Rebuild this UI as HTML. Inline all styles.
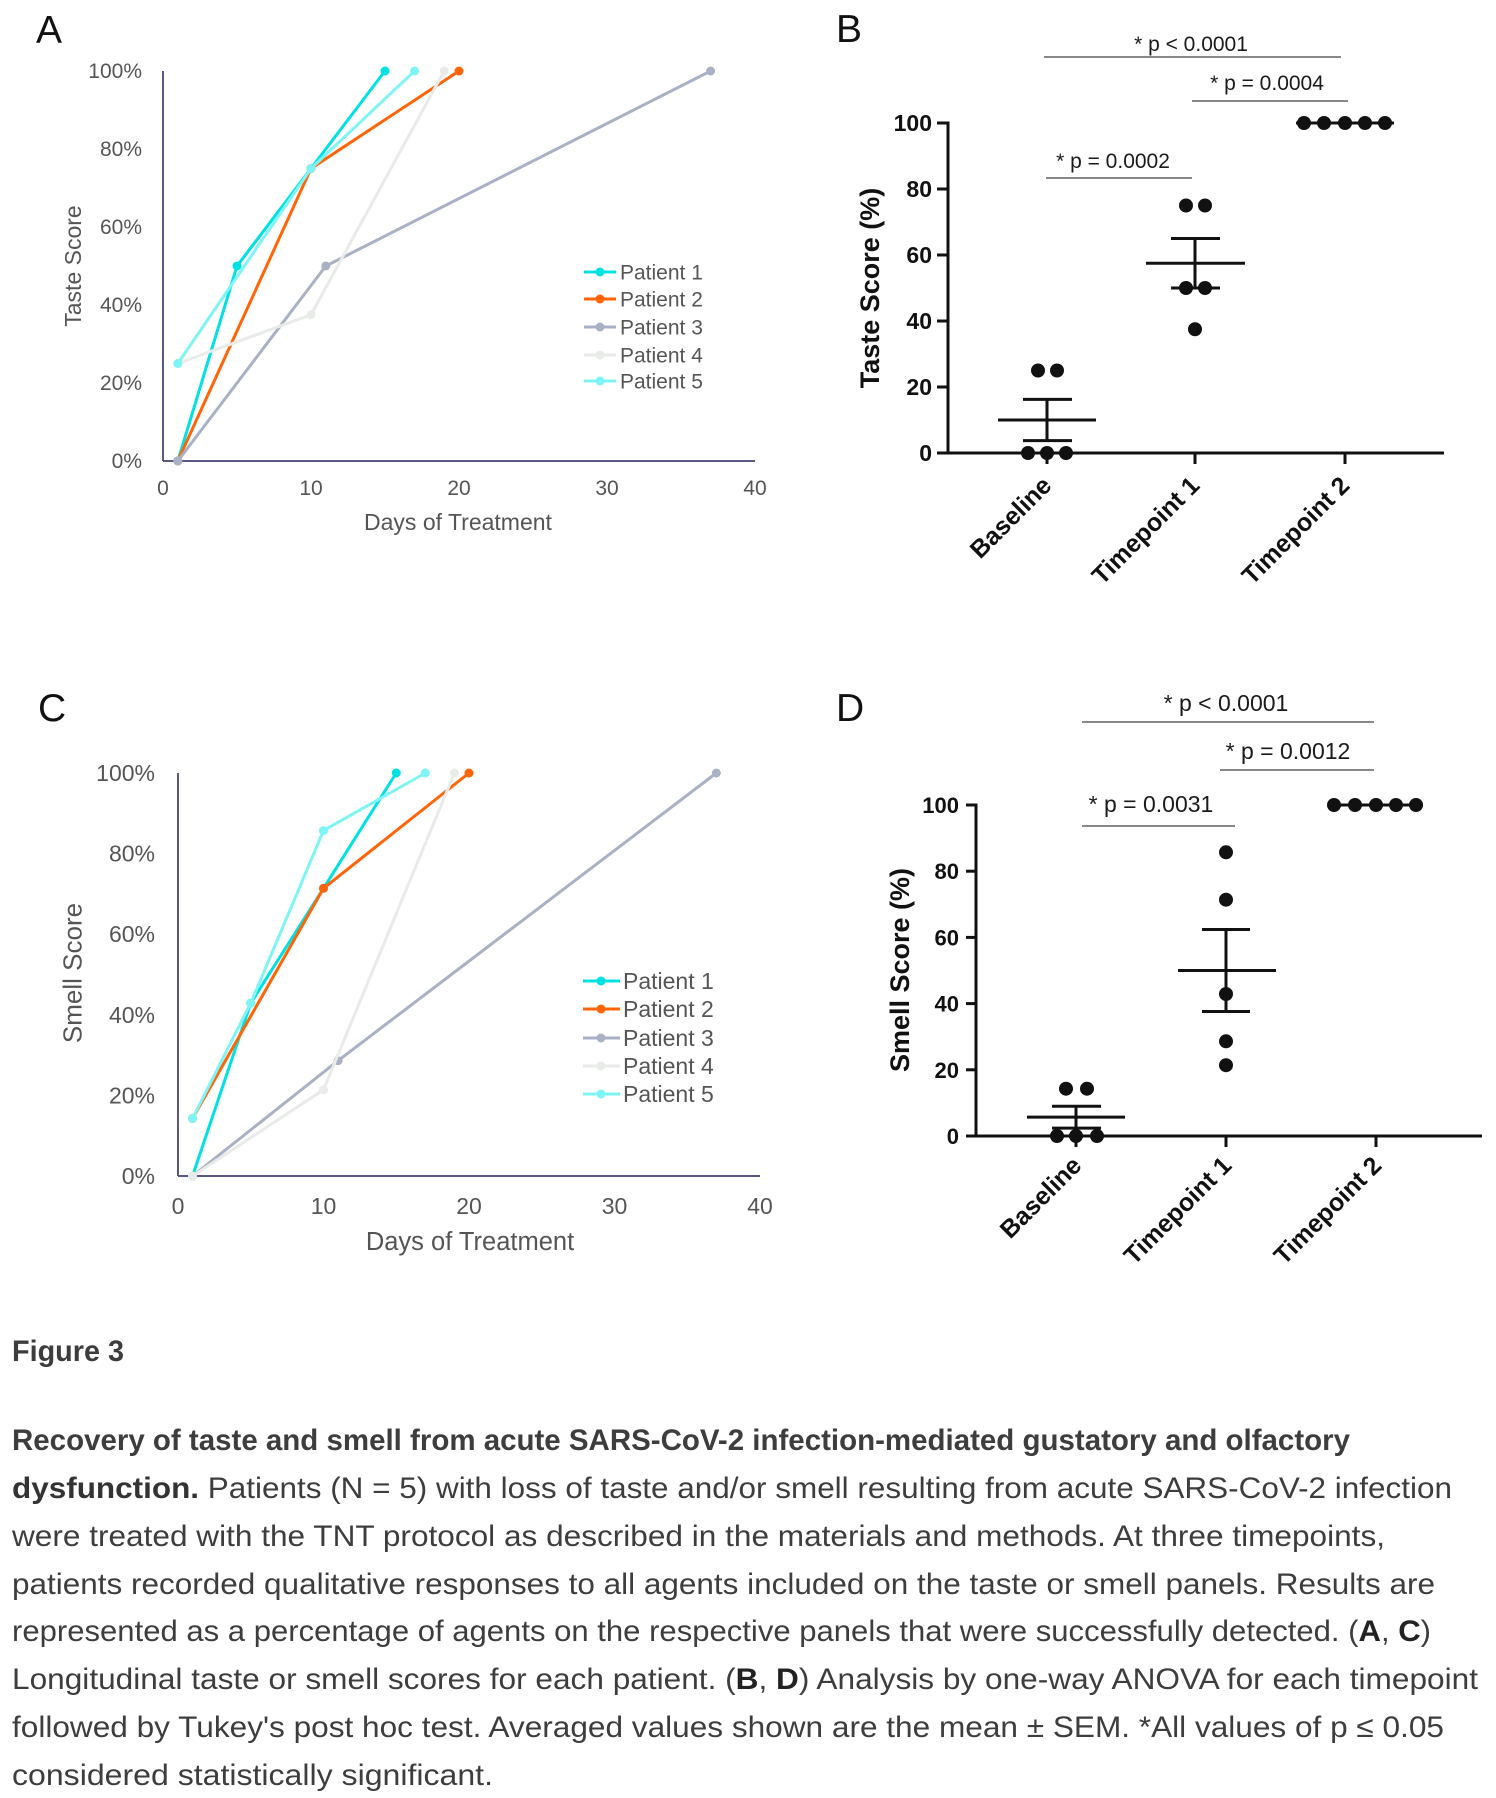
<!DOCTYPE html>
<html>
<head>
<meta charset="utf-8">
<style>
  html,body{margin:0;padding:0;background:#fff;}
  svg{display:block;}
  .ln{fill:none;stroke-width:3;stroke-linejoin:round;stroke-linecap:round;}
  .tk{font-family:"Liberation Sans",sans-serif;fill:#555;}
  .bk{font-family:"Liberation Sans",sans-serif;fill:#111;font-weight:bold;}
  .sg{font-family:"Liberation Sans",sans-serif;fill:#1a1a1a;}
  .cap{font-family:"Liberation Sans",sans-serif;fill:#3d3d3d;font-size:30px;}
</style>
</head>
<body>
<svg width="1496" height="1798" viewBox="0 0 1496 1798" xmlns="http://www.w3.org/2000/svg">
<rect width="1496" height="1798" fill="#fff"/>

<!-- ============ PANEL A ============ -->
<text x="36" y="43" font-family="Liberation Sans, sans-serif" font-size="39" fill="#111">A</text>
<line x1="163" y1="71" x2="163" y2="461" stroke="#5a5784" stroke-width="2"/>
<line x1="163" y1="461" x2="755" y2="461" stroke="#5a5784" stroke-width="2"/>
<g class="tk" font-size="21" text-anchor="end">
  <text x="142" y="78">100%</text>
  <text x="142" y="156">80%</text>
  <text x="142" y="234">60%</text>
  <text x="142" y="312">40%</text>
  <text x="142" y="390">20%</text>
  <text x="142" y="468">0%</text>
</g>
<g class="tk" font-size="21" text-anchor="middle">
  <text x="163" y="495">0</text>
  <text x="311" y="495">10</text>
  <text x="459" y="495">20</text>
  <text x="607" y="495">30</text>
  <text x="755" y="495">40</text>
</g>
<text class="tk" x="458" y="530" font-size="23" text-anchor="middle">Days of Treatment</text>
<text class="tk" x="81" y="266" font-size="23" text-anchor="middle" transform="rotate(-90 81 266)">Taste Score</text>

<!-- series A -->
<polyline class="ln" stroke="#00e1e1" points="177.8,461 237,266 311,168.5 385,71"/>
<g fill="#00e1e1"><circle cx="177.8" cy="461" r="4.5"/><circle cx="237" cy="266" r="4.5"/><circle cx="311" cy="168.5" r="4.5"/><circle cx="385" cy="71" r="4.5"/></g>
<polyline class="ln" stroke="#ff6508" points="177.8,461 311,168.5 459,71"/>
<g fill="#ff6508"><circle cx="177.8" cy="461" r="4.5"/><circle cx="311" cy="168.5" r="4.5"/><circle cx="459" cy="71" r="4.5"/></g>
<polyline class="ln" stroke="#a8b2c4" points="177.8,461 325.8,266 710.6,71"/>
<g fill="#a8b2c4"><circle cx="177.8" cy="461" r="4.5"/><circle cx="325.8" cy="266" r="4.5"/><circle cx="710.6" cy="71" r="4.5"/></g>
<polyline class="ln" stroke="#e8ebe8" points="177.8,363.5 311,314.75 444.2,71"/>
<g fill="#e8ebe8"><circle cx="177.8" cy="363.5" r="4.5"/><circle cx="311" cy="314.75" r="4.5"/><circle cx="444.2" cy="71" r="4.5"/></g>
<polyline class="ln" stroke="#7ff4f4" points="177.8,363.5 311,168.5 414.6,71"/>
<g fill="#7ff4f4"><circle cx="177.8" cy="363.5" r="4.5"/><circle cx="311" cy="168.5" r="4.5"/><circle cx="414.6" cy="71" r="4.5"/></g>

<!-- legend A -->
<g>
  <line x1="584" y1="272" x2="616" y2="272" stroke="#00e1e1" stroke-width="3"/><circle cx="600" cy="272" r="4.5" fill="#00e1e1"/>
  <line x1="584" y1="299" x2="616" y2="299" stroke="#ff6508" stroke-width="3"/><circle cx="600" cy="299" r="4.5" fill="#ff6508"/>
  <line x1="584" y1="327" x2="616" y2="327" stroke="#a8b2c4" stroke-width="3"/><circle cx="600" cy="327" r="4.5" fill="#a8b2c4"/>
  <line x1="584" y1="355" x2="616" y2="355" stroke="#e8ebe8" stroke-width="3"/><circle cx="600" cy="355" r="4.5" fill="#e8ebe8"/>
  <line x1="584" y1="381" x2="616" y2="381" stroke="#7ff4f4" stroke-width="3"/><circle cx="600" cy="381" r="4.5" fill="#7ff4f4"/>
</g>
<g class="tk" font-size="21">
  <text x="620" y="279.5">Patient 1</text>
  <text x="620" y="306.5">Patient 2</text>
  <text x="620" y="334.5">Patient 3</text>
  <text x="620" y="362.5">Patient 4</text>
  <text x="620" y="388.5">Patient 5</text>
</g>

<!-- ============ PANEL B ============ -->
<text x="836" y="42" font-family="Liberation Sans, sans-serif" font-size="39" fill="#111">B</text>
<g stroke="#888" stroke-width="2">
  <line x1="1044" y1="57" x2="1341" y2="57"/>
  <line x1="1192" y1="101" x2="1348" y2="101"/>
  <line x1="1046" y1="178" x2="1192" y2="178"/>
</g>
<g class="sg" font-size="21" text-anchor="middle">
  <text x="1191" y="51">* p &lt; 0.0001</text>
  <text x="1267" y="90">* p = 0.0004</text>
  <text x="1113" y="168">* p = 0.0002</text>
</g>
<g stroke="#111" stroke-width="3">
  <line x1="948" y1="121.5" x2="948" y2="454.5"/>
  <line x1="946.5" y1="453" x2="1444" y2="453"/>
  <line x1="937" y1="123" x2="948" y2="123"/>
  <line x1="937" y1="189" x2="948" y2="189"/>
  <line x1="937" y1="255" x2="948" y2="255"/>
  <line x1="937" y1="321" x2="948" y2="321"/>
  <line x1="937" y1="387" x2="948" y2="387"/>
  <line x1="937" y1="453" x2="948" y2="453"/>
  <line x1="1047" y1="453" x2="1047" y2="464"/>
  <line x1="1195" y1="453" x2="1195" y2="464"/>
  <line x1="1345" y1="453" x2="1345" y2="464"/>
</g>
<g class="bk" font-size="23" text-anchor="end">
  <text x="932" y="131">100</text>
  <text x="932" y="197">80</text>
  <text x="932" y="263">60</text>
  <text x="932" y="329">40</text>
  <text x="932" y="395">20</text>
  <text x="932" y="461">0</text>
</g>
<text class="bk" x="879" y="288" font-size="27" text-anchor="middle" transform="rotate(-90 879 288)">Taste Score (%)</text>
<g class="bk" font-size="25" text-anchor="end">
  <text x="1053" y="487" transform="rotate(-45 1053 487)">Baseline</text>
  <text x="1201" y="487" transform="rotate(-45 1201 487)">Timepoint 1</text>
  <text x="1351" y="487" transform="rotate(-45 1351 487)">Timepoint 2</text>
</g>
<!-- B data -->
<g stroke="#111" stroke-width="3">
  <line x1="998" y1="420" x2="1096" y2="420"/>
  <line x1="1047" y1="399.4" x2="1047" y2="440.6"/>
  <line x1="1023" y1="399.4" x2="1072" y2="399.4"/>
  <line x1="1023" y1="440.6" x2="1072" y2="440.6"/>
  <line x1="1146" y1="263.25" x2="1245" y2="263.25"/>
  <line x1="1195" y1="238.5" x2="1195" y2="288"/>
  <line x1="1171" y1="238.5" x2="1220" y2="238.5"/>
  <line x1="1171" y1="288" x2="1220" y2="288"/>
  <line x1="1296" y1="123" x2="1394" y2="123"/>
</g>
<g fill="#111">
  <circle cx="1038" cy="370.5" r="7"/><circle cx="1057" cy="370.5" r="7"/>
  <circle cx="1028" cy="453" r="7"/><circle cx="1047" cy="453" r="7"/><circle cx="1066" cy="453" r="7"/>
  <circle cx="1186" cy="205.5" r="7"/><circle cx="1205" cy="205.5" r="7"/>
  <circle cx="1186" cy="288" r="7"/><circle cx="1205" cy="288" r="7"/>
  <circle cx="1195" cy="329.25" r="7"/>
  <circle cx="1304" cy="123" r="7"/><circle cx="1324" cy="123" r="7"/><circle cx="1345" cy="123" r="7"/><circle cx="1365" cy="123" r="7"/><circle cx="1385" cy="123" r="7"/>
</g>

<!-- ============ PANEL C ============ -->
<text x="38" y="721" font-family="Liberation Sans, sans-serif" font-size="39" fill="#111">C</text>
<line x1="178" y1="773" x2="178" y2="1176" stroke="#5a5784" stroke-width="2"/>
<line x1="178" y1="1176" x2="760" y2="1176" stroke="#5a5784" stroke-width="2"/>
<g class="tk" font-size="23" text-anchor="end">
  <text x="155" y="781">100%</text>
  <text x="155" y="861.6">80%</text>
  <text x="155" y="942.2">60%</text>
  <text x="155" y="1022.8">40%</text>
  <text x="155" y="1103.4">20%</text>
  <text x="155" y="1184">0%</text>
</g>
<g class="tk" font-size="23" text-anchor="middle">
  <text x="178" y="1214">0</text>
  <text x="323.5" y="1214">10</text>
  <text x="469" y="1214">20</text>
  <text x="614.5" y="1214">30</text>
  <text x="760" y="1214">40</text>
</g>
<text class="tk" x="470" y="1250" font-size="25.5" text-anchor="middle">Days of Treatment</text>
<text class="tk" x="81.5" y="973" font-size="26" text-anchor="middle" transform="rotate(-90 81.5 973)">Smell Score</text>

<!-- series C -->
<polyline class="ln" stroke="#00e1e1" points="192.55,1176 250.75,1003.1 323.5,888.3 396.25,773"/>
<g fill="#00e1e1"><circle cx="192.55" cy="1176" r="4.5"/><circle cx="250.75" cy="1003.1" r="4.5"/><circle cx="323.5" cy="888.3" r="4.5"/><circle cx="396.25" cy="773" r="4.5"/></g>
<polyline class="ln" stroke="#ff6508" points="192.55,1118.4 323.5,888.3 469,773"/>
<g fill="#ff6508"><circle cx="192.55" cy="1118.4" r="4.5"/><circle cx="323.5" cy="888.3" r="4.5"/><circle cx="469" cy="773" r="4.5"/></g>
<polyline class="ln" stroke="#a8b2c4" points="192.55,1176 338.05,1060.7 716.35,773"/>
<g fill="#a8b2c4"><circle cx="192.55" cy="1176" r="4.5"/><circle cx="338.05" cy="1060.7" r="4.5"/><circle cx="716.35" cy="773" r="4.5"/></g>
<polyline class="ln" stroke="#e8ebe8" points="192.55,1176 323.5,1089.8 454.45,773"/>
<g fill="#e8ebe8"><circle cx="192.55" cy="1176" r="4.5"/><circle cx="323.5" cy="1089.8" r="4.5"/><circle cx="454.45" cy="773" r="4.5"/></g>
<polyline class="ln" stroke="#7ff4f4" points="192.55,1118.4 250.75,1003.1 323.5,830.6 425.35,773"/>
<g fill="#7ff4f4"><circle cx="192.55" cy="1118.4" r="4.5"/><circle cx="250.75" cy="1003.1" r="4.5"/><circle cx="323.5" cy="830.6" r="4.5"/><circle cx="425.35" cy="773" r="4.5"/></g>

<!-- legend C -->
<g>
  <line x1="583" y1="981" x2="620" y2="981" stroke="#00e1e1" stroke-width="3"/><circle cx="601" cy="981" r="4.5" fill="#00e1e1"/>
  <line x1="583" y1="1009" x2="620" y2="1009" stroke="#ff6508" stroke-width="3"/><circle cx="601" cy="1009" r="4.5" fill="#ff6508"/>
  <line x1="583" y1="1038" x2="620" y2="1038" stroke="#a8b2c4" stroke-width="3"/><circle cx="601" cy="1038" r="4.5" fill="#a8b2c4"/>
  <line x1="583" y1="1066" x2="620" y2="1066" stroke="#e8ebe8" stroke-width="3"/><circle cx="601" cy="1066" r="4.5" fill="#e8ebe8"/>
  <line x1="583" y1="1094" x2="620" y2="1094" stroke="#7ff4f4" stroke-width="3"/><circle cx="601" cy="1094" r="4.5" fill="#7ff4f4"/>
</g>
<g class="tk" font-size="23">
  <text x="623" y="989">Patient 1</text>
  <text x="623" y="1017">Patient 2</text>
  <text x="623" y="1046">Patient 3</text>
  <text x="623" y="1074">Patient 4</text>
  <text x="623" y="1102">Patient 5</text>
</g>

<!-- ============ PANEL D ============ -->
<text x="836" y="721" font-family="Liberation Sans, sans-serif" font-size="39" fill="#111">D</text>
<g stroke="#888" stroke-width="2">
  <line x1="1082" y1="722" x2="1374" y2="722"/>
  <line x1="1220" y1="770" x2="1374" y2="770"/>
  <line x1="1082" y1="826" x2="1235" y2="826"/>
</g>
<g class="sg" font-size="23" text-anchor="middle">
  <text x="1226" y="711">* p &lt; 0.0001</text>
  <text x="1288" y="759">* p = 0.0012</text>
  <text x="1151" y="812">* p = 0.0031</text>
</g>
<g stroke="#111" stroke-width="3">
  <line x1="976" y1="803.5" x2="976" y2="1137.5"/>
  <line x1="974.5" y1="1136" x2="1482" y2="1136"/>
  <line x1="966" y1="805" x2="976" y2="805"/>
  <line x1="966" y1="871.2" x2="976" y2="871.2"/>
  <line x1="966" y1="937.4" x2="976" y2="937.4"/>
  <line x1="966" y1="1003.6" x2="976" y2="1003.6"/>
  <line x1="966" y1="1069.8" x2="976" y2="1069.8"/>
  <line x1="966" y1="1136" x2="976" y2="1136"/>
  <line x1="1076" y1="1136" x2="1076" y2="1147"/>
  <line x1="1226" y1="1136" x2="1226" y2="1147"/>
  <line x1="1376" y1="1136" x2="1376" y2="1147"/>
</g>
<g class="bk" font-size="22" text-anchor="end">
  <text x="959" y="813">100</text>
  <text x="959" y="879.2">80</text>
  <text x="959" y="945.4">60</text>
  <text x="959" y="1011.6">40</text>
  <text x="959" y="1077.8">20</text>
  <text x="959" y="1144">0</text>
</g>
<text class="bk" x="909" y="970" font-size="27" text-anchor="middle" transform="rotate(-90 909 970)">Smell Score (%)</text>
<g class="bk" font-size="25" text-anchor="end">
  <text x="1083" y="1167" transform="rotate(-45 1083 1167)">Baseline</text>
  <text x="1233" y="1167" transform="rotate(-45 1233 1167)">Timepoint 1</text>
  <text x="1383" y="1167" transform="rotate(-45 1383 1167)">Timepoint 2</text>
</g>
<!-- D data -->
<g stroke="#111" stroke-width="3">
  <line x1="1027" y1="1117.1" x2="1125" y2="1117.1"/>
  <line x1="1076" y1="1106.2" x2="1076" y2="1128.1"/>
  <line x1="1052" y1="1106.2" x2="1101" y2="1106.2"/>
  <line x1="1052" y1="1128.1" x2="1101" y2="1128.1"/>
  <line x1="1178" y1="970.5" x2="1276" y2="970.5"/>
  <line x1="1226" y1="929.5" x2="1226" y2="1011.5"/>
  <line x1="1202" y1="929.5" x2="1250" y2="929.5"/>
  <line x1="1202" y1="1011.5" x2="1250" y2="1011.5"/>
  <line x1="1329" y1="805" x2="1423" y2="805"/>
</g>
<g fill="#111">
  <circle cx="1066" cy="1088.7" r="7"/><circle cx="1087" cy="1088.7" r="7"/>
  <circle cx="1057" cy="1136" r="7"/><circle cx="1076" cy="1136" r="7"/><circle cx="1097" cy="1136" r="7"/>
  <circle cx="1226" cy="852.3" r="7"/><circle cx="1226" cy="899.7" r="7"/><circle cx="1226" cy="994" r="7"/>
  <circle cx="1226" cy="1041.3" r="7"/><circle cx="1226" cy="1065.2" r="7"/>
  <circle cx="1334" cy="805" r="7"/><circle cx="1355" cy="805" r="7"/><circle cx="1376" cy="805" r="7"/><circle cx="1396" cy="805" r="7"/><circle cx="1416" cy="805" r="7"/>
</g>

<!-- ============ CAPTION ============ -->
<text class="cap" x="12" y="1361" font-weight="bold" fill="#333" textLength="112" lengthAdjust="spacingAndGlyphs">Figure 3</text>
<text class="cap" x="12" y="1450" font-weight="bold" fill="#333" textLength="1338" lengthAdjust="spacingAndGlyphs">Recovery of taste and smell from acute SARS-CoV-2 infection-mediated gustatory and olfactory</text>
<text class="cap" x="12" y="1498" textLength="1440" lengthAdjust="spacingAndGlyphs"><tspan font-weight="bold" fill="#333">dysfunction.</tspan> Patients (N = 5) with loss of taste and/or smell resulting from acute SARS-CoV-2 infection</text>
<text class="cap" x="12" y="1546" textLength="1373" lengthAdjust="spacingAndGlyphs">were treated with the TNT protocol as described in the materials and methods. At three timepoints,</text>
<text class="cap" x="12" y="1594" textLength="1423" lengthAdjust="spacingAndGlyphs">patients recorded qualitative responses to all agents included on the taste or smell panels. Results are</text>
<text class="cap" x="12" y="1641" textLength="1419" lengthAdjust="spacingAndGlyphs">represented as a percentage of agents on the respective panels that were successfully detected. (<tspan font-weight="bold" fill="#222">A</tspan>, <tspan font-weight="bold" fill="#222">C</tspan>)</text>
<text class="cap" x="12" y="1689" textLength="1466" lengthAdjust="spacingAndGlyphs">Longitudinal taste or smell scores for each patient. (<tspan font-weight="bold" fill="#222">B</tspan>, <tspan font-weight="bold" fill="#222">D</tspan>) Analysis by one-way ANOVA for each timepoint</text>
<text class="cap" x="12" y="1737" textLength="1432" lengthAdjust="spacingAndGlyphs">followed by Tukey's post hoc test. Averaged values shown are the mean ± SEM. *All values of p ≤ 0.05</text>
<text class="cap" x="12" y="1785" textLength="481" lengthAdjust="spacingAndGlyphs">considered statistically significant.</text>
</svg>
</body>
</html>
